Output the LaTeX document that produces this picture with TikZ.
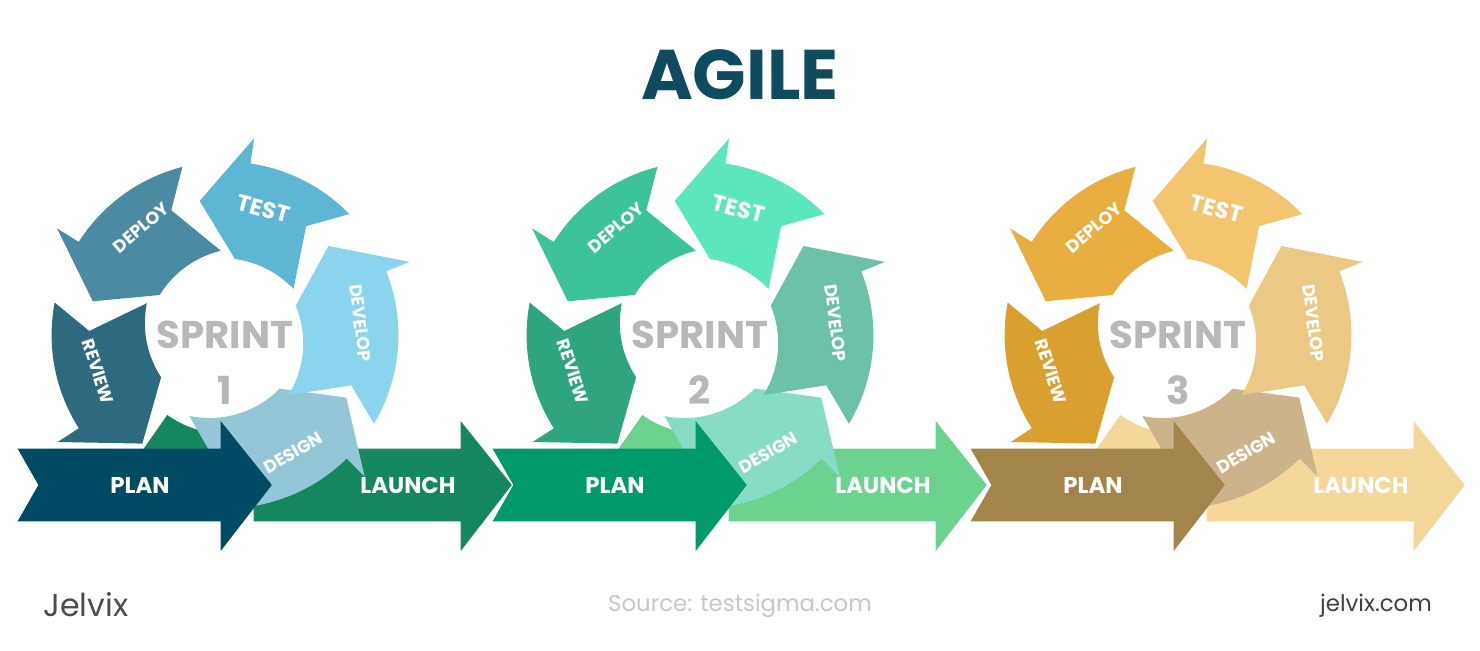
\documentclass[tikz,border=0pt]{standalone}
\usepackage{fontspec}
\setmainfont{Poppins}
\definecolor{titlecol}{HTML}{0E4B5E}
\definecolor{sprintgray}{HTML}{B8B8B8}
% sprint 1
\definecolor{planA}{HTML}{004B63}\definecolor{launchA}{HTML}{14875F}
\definecolor{designA}{HTML}{93C6D6}\definecolor{developA}{HTML}{8AD4EE}
\definecolor{testA}{HTML}{5DB6D4}\definecolor{deployA}{HTML}{4A8BA3}
\definecolor{reviewA}{HTML}{2E6A7F}
% sprint 2
\definecolor{planB}{HTML}{009A6A}\definecolor{launchB}{HTML}{6CD38F}
\definecolor{designB}{HTML}{86DCC4}\definecolor{developB}{HTML}{6BC2A8}
\definecolor{testB}{HTML}{5CE6BE}\definecolor{deployB}{HTML}{3DC39A}
\definecolor{reviewB}{HTML}{2EA57F}
% sprint 3
\definecolor{planC}{HTML}{A3844A}\definecolor{launchC}{HTML}{F5D79A}
\definecolor{designC}{HTML}{CBB48A}\definecolor{developC}{HTML}{EBC985}
\definecolor{testC}{HTML}{F4C56F}\definecolor{deployC}{HTML}{E8AE40}
\definecolor{reviewC}{HTML}{D9A030}
\tikzset{piece/.style={draw=white,line width=1.6pt,line join=miter},
  lbl/.style={text=white,font=\bfseries\fontsize{10}{10}\selectfont},
  barlbl/.style={text=white,font=\bfseries\fontsize{13}{13}\selectfont}}
% ring arrow: start angle, head base angle, tip angle, colour
\newcommand{\ringarrow}[4]{%
  \fill[piece,#4] (#1:172) arc[start angle=#1,end angle=#2,radius=172]
    -- (#2:194) -- (#3:136) -- (#2:78)
    arc[start angle=#2,end angle=#1,radius=100] -- (#1+9:136) -- cycle;}
\begin{document}
\begin{tikzpicture}[x=0.02cm,y=0.02cm]
  \useasboundingbox[fill=white] (0,0) rectangle (1480,650);
  \node (title) at (740,575) {\color{titlecol}\bfseries\fontsize{40}{40}\selectfont AGILE};
  \foreach \s/\cx in {A/225,B/700,C/1178}{
    \begin{scope}[shift={(\cx,315)}]
      % piece of ring under the plan bar
      \fill[piece,launch\s] (235:172) arc[start angle=235,end angle=262,radius=172]
        -- (262:100) arc[start angle=262,end angle=235,radius=100] -- cycle;
      % launch bar
      \fill[piece,launch\s] (30,-115) -- (237,-115) -- (237,-90) -- (285,-150)
        -- (237,-212) -- (237,-185) -- (30,-185) -- cycle;
      \ringarrow{-100}{-45}{-28}{design\s}
      \ringarrow{-30}{22}{40}{develop\s}
      \ringarrow{45}{82}{100}{test\s}
      \ringarrow{105}{148}{165}{deploy\s}
      \ringarrow{170}{213}{232}{review\s}
      % plan bar
      \fill[piece,plan\s] (-205,-115) -- (-3,-115) -- (-3,-90) -- (45,-150)
        -- (-3,-212) -- (-3,-185) -- (-205,-185) -- (-185,-150) -- cycle;
      \node[barlbl] at (-85,-150) {PLAN};
      \node[barlbl] at (183,-150) {LAUNCH};
      \node[lbl,rotate=30] at (-60:136) {DESIGN};
      \node[lbl,rotate=-83] at (5:136) {DEVELOP};
      \node[lbl,rotate=-15,font=\bfseries\fontsize{13}{13}\selectfont] at (73:132) {TEST};
      \node[lbl,rotate=40] at (128:136) {DEPLOY};
      \node[lbl,rotate=-72] at (196:132) {REVIEW};
      \node[text=sprintgray,font=\bfseries\fontsize{22}{22}\selectfont] at (0,0) {SPRINT};
    \end{scope}}
  \node[text=sprintgray,font=\bfseries\fontsize{22}{22}\selectfont] (n1) at (225,260) {1};
  \node[text=sprintgray,font=\bfseries\fontsize{22}{22}\selectfont] (n2) at (700,260) {2};
  \node[text=sprintgray,font=\bfseries\fontsize{22}{22}\selectfont] (n3) at (1178,260) {3};
  % footer
  \node[text=black!70,font=\fontsize{18}{18}\selectfont] (logo) at (86,45) {Jelvix};
  \node[text=black!22,font=\fontsize{13}{13}\selectfont] (src) at (740,44) {Source: testsigma.com};
  \node[text=black!75,font=\fontsize{13}{13}\selectfont] (site) at (1376,44) {jelvix.com};
\end{tikzpicture}
\end{document}
